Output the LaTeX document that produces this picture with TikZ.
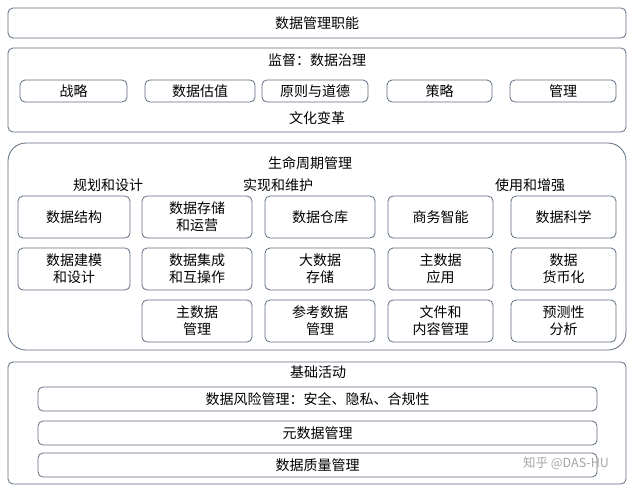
\documentclass[tikz,border=0pt]{standalone}
\usepackage{fontspec}
\newfontfamily\cjk{Noto Sans CJK SC}
\definecolor{bd}{RGB}{95,110,130}
\begin{document}
\begin{tikzpicture}[x=1pt,y=-1pt,font=\cjk\fontsize{14}{17}\selectfont,
  frame/.style={draw=bd,line width=0.8pt,rounded corners=5pt},
  cell/.style={frame,align=center,inner sep=0pt}]
\useasboundingbox (0,0) rectangle (636,490);
\fill[white] (0,0) rectangle (636,490);
\node[cell,minimum width=618,minimum height=30] (top) at (317,23) {数据管理职能};
\draw[frame] (8,48) rectangle (626,132);
\node (gov) at (317,60) {监督：数据治理};
\foreach \n/\a/\b/\t in {g1/20/127/战略,g2/145/255/数据估值,g3/262/368/原则与道德,g4/387/492/策略,g5/510/616/管理}
  \node[cell,minimum width=\b-\a,minimum height=22] (\n) at ({(\a+\b)/2},91) {\t};
\node (cul) at (317,118) {文化变革};
\draw[frame,rounded corners=18pt] (8,143) rectangle (626,350);
\node (lc) at (310,163) {生命周期管理};
\node (p1) at (108,185) {规划和设计};
\node (p2) at (278,185) {实现和维护};
\node (p3) at (530,185) {使用和增强};
\foreach \n/\a/\b/\y/\t in {
 a1/18/130/217/数据结构, a2/142/252/217/数据存储\\和运营, a3/265/375/217/数据仓库, a4/388/493/217/商务智能, a5/511/616/217/数据科学,
 b1/18/130/269/数据建模\\和设计, b2/142/252/269/数据集成\\和互操作, b3/265/375/269/大数据\\存储, b4/388/493/269/主数据\\应用, b5/511/616/269/数据\\货币化,
 c2/142/252/321/主数据\\管理, c3/265/375/321/参考数据\\管理, c4/388/493/321/文件和\\内容管理, c5/511/616/321/预测性\\分析}
  \node[cell,minimum width=\b-\a,minimum height=42] (\n) at ({(\a+\b)/2},\y) {\t};
\draw[frame] (8,362) rectangle (626,484);
\node (fa) at (318,372) {基础活动};
\foreach \n/\y/\t in {f1/399/数据风险管理：安全、隐私、合规性, f2/433/元数据管理, f3/465/数据质量管理}
  \node[cell,minimum width=559,minimum height=24] (\n) at (317.5,\y) {\t};
\node[text=gray!70,font=\cjk\fontsize{12.5}{15}\selectfont] (wm) at (566,463) {知乎 @DAS-HU};
\end{tikzpicture}
\end{document}
